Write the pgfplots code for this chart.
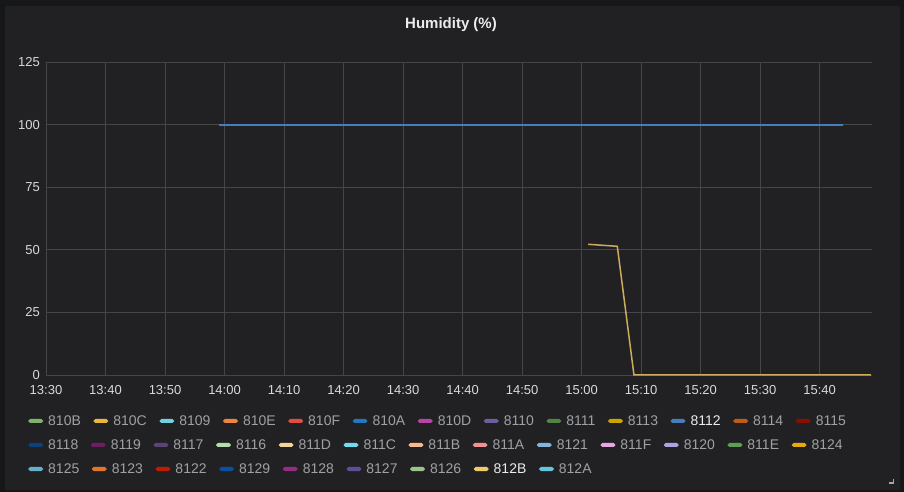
\documentclass[border=0pt]{standalone}
\usepackage{fontspec}
\setmainfont{Liberation Sans}
\usepackage{pgfplots}
\pgfplotsset{compat=1.18}

\definecolor{outerbg}{HTML}{161719}
\definecolor{panelbg}{HTML}{212124}
\definecolor{gridc}{HTML}{464648}
\definecolor{tickc}{HTML}{D8D9DA}
\definecolor{legc}{HTML}{9FA1A4}
\definecolor{hic}{HTML}{ECECEC}
% grafana classic palette
\definecolor{c810B}{HTML}{7EB26D}
\definecolor{c810C}{HTML}{EAB839}
\definecolor{c8109}{HTML}{6ED0E0}
\definecolor{c810E}{HTML}{EF843C}
\definecolor{c810F}{HTML}{E24D42}
\definecolor{c810A}{HTML}{1F78C1}
\definecolor{c810D}{HTML}{BA43A9}
\definecolor{c8110}{HTML}{705DA0}
\definecolor{c8111}{HTML}{508642}
\definecolor{c8113}{HTML}{CCA300}
\definecolor{c8112}{HTML}{447EBC}
\definecolor{c8114}{HTML}{C15C17}
\definecolor{c8115}{HTML}{890F02}
\definecolor{c8118}{HTML}{0A437C}
\definecolor{c8119}{HTML}{6D1F62}
\definecolor{c8117}{HTML}{584477}
\definecolor{c8116}{HTML}{B7DBAB}
\definecolor{c811D}{HTML}{F4D598}
\definecolor{c811C}{HTML}{70DBED}
\definecolor{c811B}{HTML}{F9BA8F}
\definecolor{c811A}{HTML}{F29191}
\definecolor{c8121}{HTML}{82B5D8}
\definecolor{c811F}{HTML}{E5A8E2}
\definecolor{c8120}{HTML}{AEA2E0}
\definecolor{c811E}{HTML}{629E51}
\definecolor{c8124}{HTML}{E5AC0E}
\definecolor{c8125}{HTML}{64B0C8}
\definecolor{c8123}{HTML}{E0752D}
\definecolor{c8122}{HTML}{BF1B00}
\definecolor{c8129}{HTML}{0A50A1}
\definecolor{c8128}{HTML}{962D82}
\definecolor{c8127}{HTML}{614D93}
\definecolor{c8126}{HTML}{9AC48A}
\definecolor{c812B}{HTML}{F2C96D}
\definecolor{c812A}{HTML}{65C5DB}

\pgfplotsset{
  legrow/.style={
    hide axis, scale only axis, width=1bp, height=1bp,
    xmin=0, xmax=1, ymin=0, ymax=1, anchor=west,
    legend columns=-1,
    legend image code/.code={\fill[##1, draw=none, rounded corners=1.9bp] (0bp,-2bp) rectangle (15bp,2bp);},
    legend style={at={(0,0.5)}, anchor=west, draw=none, fill=none, inner sep=0pt,
      font=\fontsize{14bp}{16bp}\selectfont, text=legc,
      nodes={inner sep=0pt},
      /tikz/every odd column/.append style={column sep=5bp},
      /tikz/every even column/.append style={column sep=12.5bp}},
  }
}

\begin{document}
\begin{tikzpicture}
\begin{axis}[
  set layers, axis on top=false,
  at={(46bp,117bp)}, anchor=south west,
  scale only axis, width=826bp, height=313bp,
  xmin=0, xmax=138.8, ymin=0, ymax=125,
  xtick={0,10,...,130},
  xticklabels={13:30,13:40,13:50,14:00,14:10,14:20,14:30,14:40,14:50,15:00,15:10,15:20,15:30,15:40},
  ytick={0,25,50,75,100,125},
  grid=major, grid style={gridc, line width=0.8bp},
  axis line style={draw=none}, major tick length=0pt,
  tick label style={font=\fontsize{13bp}{15bp}\selectfont, text=tickc, inner sep=0pt},
  xticklabel style={anchor=north, yshift=-10bp},
  yticklabel style={anchor=east, xshift=-6bp},
  /pgf/number format/assume math mode=true,
  clip=false,
]
% page and panel background, under the grid
\begin{pgfonlayer}{axis background}
\fill[outerbg] (rel axis cs:-0.05569,-0.37380) rectangle (rel axis cs:1.03874,1.19808);
\fill[panelbg, rounded corners=2bp] (rel axis cs:-0.04964,-0.36741) rectangle (rel axis cs:1.03390,1.17891);
\end{pgfonlayer}
% 8112
\addplot[c8112, line width=2.1bp] coordinates {(29.1,100) (134.0,100)};
% 812B
\addplot[c812B!85!black, line width=1.5bp] coordinates {(91.1,52.2) (96.0,51.4) (98.8,0) (138.6,0)};
\end{axis}

\node[text=hic, font=\bfseries\fontsize{15bp}{17bp}\selectfont] at (451bp,467bp) {Humidity (\%)};

\begin{axis}[legrow, at={(28bp,71bp)}]
\addlegendimage{c810B}\addlegendentry{810B}
\addlegendimage{c810C}\addlegendentry{810C}
\addlegendimage{c8109}\addlegendentry{8109}
\addlegendimage{c810E}\addlegendentry{810E}
\addlegendimage{c810F}\addlegendentry{810F}
\addlegendimage{c810A}\addlegendentry{810A}
\addlegendimage{c810D}\addlegendentry{810D}
\addlegendimage{c8110}\addlegendentry{8110}
\addlegendimage{c8111}\addlegendentry{8111}
\addlegendimage{c8113}\addlegendentry{8113}
\addlegendimage{c8112}\addlegendentry{\textcolor{hic}{8112}}
\addlegendimage{c8114}\addlegendentry{8114}
\addlegendimage{c8115}\addlegendentry{8115}
\end{axis}

\begin{axis}[legrow, at={(28bp,47bp)}]
\addlegendimage{c8118}\addlegendentry{8118}
\addlegendimage{c8119}\addlegendentry{8119}
\addlegendimage{c8117}\addlegendentry{8117}
\addlegendimage{c8116}\addlegendentry{8116}
\addlegendimage{c811D}\addlegendentry{811D}
\addlegendimage{c811C}\addlegendentry{811C}
\addlegendimage{c811B}\addlegendentry{811B}
\addlegendimage{c811A}\addlegendentry{811A}
\addlegendimage{c8121}\addlegendentry{8121}
\addlegendimage{c811F}\addlegendentry{811F}
\addlegendimage{c8120}\addlegendentry{8120}
\addlegendimage{c811E}\addlegendentry{811E}
\addlegendimage{c8124}\addlegendentry{8124}
\end{axis}

\begin{axis}[legrow, at={(28bp,23bp)}]
\addlegendimage{c8125}\addlegendentry{8125}
\addlegendimage{c8123}\addlegendentry{8123}
\addlegendimage{c8122}\addlegendentry{8122}
\addlegendimage{c8129}\addlegendentry{8129}
\addlegendimage{c8128}\addlegendentry{8128}
\addlegendimage{c8127}\addlegendentry{8127}
\addlegendimage{c8126}\addlegendentry{8126}
\addlegendimage{c812B}\addlegendentry{\textcolor{hic}{812B}}
\addlegendimage{c812A}\addlegendentry{812A}
\end{axis}

% resize handle
\fill[gray!70] (889bp,8bp) rectangle (894bp,9.5bp);
\fill[gray!70] (892.5bp,8bp) rectangle (894bp,13bp);

\pgfresetboundingbox
\useasboundingbox (0,0) rectangle (904bp,492bp);
\end{tikzpicture}
\end{document}
